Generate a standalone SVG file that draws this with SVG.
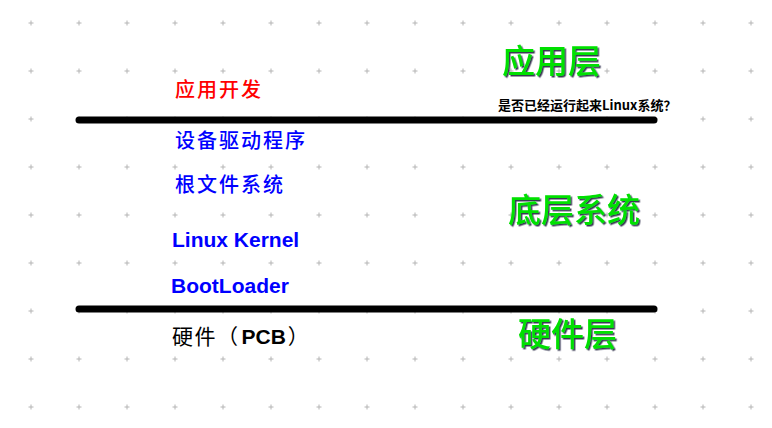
<svg xmlns="http://www.w3.org/2000/svg" width="772" height="428" viewBox="0 0 772 428">
<defs>
<pattern id="grid" x="31" y="23" width="48" height="48" patternUnits="userSpaceOnUse">
<path d="M0 -2.5V2.5M-2.5 0H2.5M48 -2.5V2.5M45.5 0H50.5M0 45.5V50.5M-2.5 48H2.5M48 45.5V50.5M45.5 48H50.5" stroke="#b4b4b4" stroke-width="1" fill="none"/>
</pattern>
<filter id="sh" x="-10%" y="-10%" width="130%" height="130%">
<feDropShadow dx="1.5" dy="1.5" stdDeviation="0.3" flood-color="#202040" flood-opacity="0.9"/>
</filter>
</defs>
<style>
.cn{font-family:"Noto Sans CJK SC","Liberation Sans",sans-serif;}
.en{font-family:"Liberation Sans","Noto Sans CJK SC",sans-serif;font-weight:bold;}
.big{font-size:33px;font-weight:500;fill:#00e000;filter:url(#sh);}
.mid{font-size:20px;letter-spacing:2px;font-weight:500;}
.bar{stroke:#000;stroke-width:7;stroke-linecap:round;fill:none;}
</style>
<rect width="772" height="428" fill="#fff"/>
<g id="grid-marks">
<rect x="26" y="18" width="730" height="394" fill="url(#grid)"/>
</g>
<g id="connectors">
<line class="bar" x1="79" y1="120" x2="654" y2="120"/>
<line class="bar" x1="79" y1="309" x2="654" y2="309"/>
</g>
<g id="app-layer"><text class="cn big" x="502" y="73">应用层</text></g>
<g id="question"><text class="cn" x="498" y="110" font-size="13" font-weight="bold" fill="#000">是否已经运行起来Linux系统？</text></g>
<g id="app-dev"><text class="cn mid" x="175" y="97" fill="#ff0000">应用开发</text></g>
<g id="drivers"><text class="cn mid" x="175" y="148" fill="#0000ff">设备驱动程序</text></g>
<g id="rootfs"><text class="cn mid" x="175" y="192" fill="#0000ff">根文件系统</text></g>
<g id="kernel"><text class="en" x="172" y="247" font-size="21" fill="#0000ff">Linux Kernel</text></g>
<g id="bootloader"><text class="en" x="171" y="293" font-size="21" fill="#0000ff">BootLoader</text></g>
<g id="system-layer"><text class="cn big" x="508" y="222">底层系统</text></g>
<g id="pcb"><text x="172" y="344" font-size="21" fill="#000"><tspan class="cn" letter-spacing="1.5">硬件（</tspan><tspan class="en" dx="2">PCB</tspan><tspan class="cn" dx="2">）</tspan></text></g>
<g id="hw-layer"><text class="cn big" x="518" y="346">硬件层</text></g>
</svg>
